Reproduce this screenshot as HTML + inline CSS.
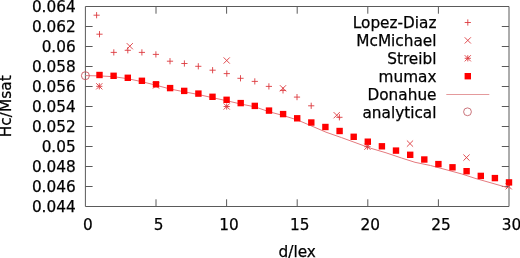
<!DOCTYPE html>
<html><head><meta charset="utf-8"><style>
html,body{margin:0;padding:0;background:#fff;width:520px;height:258px;overflow:hidden}
svg{display:block}
text{font-family:"DejaVu Sans","Liberation Sans",sans-serif;font-size:15.3px;fill:#000;stroke:#000;stroke-width:0.25px}
</style></head><body>
<svg width="520" height="258" viewBox="0 0 520 258">
<rect width="520" height="258" fill="#fff"/>
<path d="M85.4 186.5h7.2M509 186.5h-7.2M85.4 166.5h7.2M509 166.5h-7.2M85.4 146.5h7.2M509 146.5h-7.2M85.4 126.5h7.2M509 126.5h-7.2M85.4 106.5h7.2M509 106.5h-7.2M85.4 86.5h7.2M509 86.5h-7.2M85.4 66.5h7.2M509 66.5h-7.2M85.4 46.5h7.2M509 46.5h-7.2M85.4 26.5h7.2M509 26.5h-7.2M156.00 206.5v-7.2M156.00 6.5v7.2M226.60 206.5v-7.2M226.60 6.5v7.2M297.20 206.5v-7.2M297.20 6.5v7.2M367.80 206.5v-7.2M367.80 6.5v7.2M438.40 206.5v-7.2M438.40 6.5v7.2" stroke="#5a5a5a" stroke-width="1" fill="none"/>
<path d="M85.4 6.5H509V206.5H85.4Z" stroke="#5a5a5a" stroke-width="1" fill="none"/>
<text x="75.7" y="211.5" text-anchor="end">0.044</text>
<text x="75.7" y="191.5" text-anchor="end">0.046</text>
<text x="75.7" y="171.5" text-anchor="end">0.048</text>
<text x="75.7" y="151.5" text-anchor="end">0.05</text>
<text x="75.7" y="131.5" text-anchor="end">0.052</text>
<text x="75.7" y="111.5" text-anchor="end">0.054</text>
<text x="75.7" y="91.5" text-anchor="end">0.056</text>
<text x="75.7" y="71.5" text-anchor="end">0.058</text>
<text x="75.7" y="51.5" text-anchor="end">0.06</text>
<text x="75.7" y="31.5" text-anchor="end">0.062</text>
<text x="75.7" y="11.5" text-anchor="end">0.064</text>
<text x="87.9" y="229.5" text-anchor="middle">0</text>
<text x="158.5" y="229.5" text-anchor="middle">5</text>
<text x="229.1" y="229.5" text-anchor="middle">10</text>
<text x="299.7" y="229.5" text-anchor="middle">15</text>
<text x="370.3" y="229.5" text-anchor="middle">20</text>
<text x="440.9" y="229.5" text-anchor="middle">25</text>
<text x="511.5" y="229.5" text-anchor="middle">30</text>
<text x="297.2" y="257" text-anchor="middle">d/lex</text>
<text transform="translate(11.2 106.3) rotate(-90)" text-anchor="middle" style="font-size:15.4px">Hc/Msat</text>
<text x="436.5" y="28.0" text-anchor="end">Lopez-Diaz</text>
<text x="436.5" y="45.9" text-anchor="end">McMichael</text>
<text x="436.5" y="63.8" text-anchor="end">Streibl</text>
<text x="436.5" y="81.7" text-anchor="end">mumax</text>
<text x="436.5" y="99.6" text-anchor="end">Donahue</text>
<text x="436.5" y="117.5" text-anchor="end">analytical</text>
<g stroke="#e57a7e" stroke-width="1" fill="none">
<polyline points="85.4,75.6 99.5,75.9 113.6,76.7 127.8,78.7 141.9,81.7 156.0,85.2 170.1,89.0 184.2,91.8 198.4,94.5 212.5,97.7 226.6,100.7 240.7,104.0 254.8,106.8 269.0,111.7 283.1,115.5 297.2,119.9 310.5,125.5 326.0,132.2 341.5,137.6 355.0,142.5 370.5,148.2 386.0,152.8 401.5,158.0 415.0,162.3 430.5,165.5 446.0,169.7 461.5,173.9 475.0,178.3 509.0,188.0"/>
<path d="M446.3 94.5H489.3" stroke="#e49a9c"/>
</g>
<g stroke="#dc3a3e" stroke-width="0.9" fill="none">
<path d="M93.5 15.2H99.7M96.6 12.1V18.3"/>
<path d="M96.4 34.2H102.6M99.5 31.1V37.3"/>
<path d="M110.7 52.4H116.9M113.8 49.3V55.5"/>
<path d="M124.7 50.3H130.9M127.8 47.2V53.4"/>
<path d="M138.8 52.4H145.0M141.9 49.3V55.5"/>
<path d="M152.8 54.4H159.0M155.9 51.3V57.5"/>
<path d="M166.9 61.2H173.1M170.0 58.1V64.3"/>
<path d="M181.3 63.5H187.5M184.4 60.4V66.6"/>
<path d="M195.2 66.3H201.4M198.3 63.2V69.4"/>
<path d="M209.5 70.2H215.7M212.6 67.1V73.3"/>
<path d="M223.7 73.6H229.9M226.8 70.5V76.7"/>
<path d="M237.4 78.3H243.6M240.5 75.2V81.4"/>
<path d="M251.7 81.4H257.9M254.8 78.3V84.5"/>
<path d="M265.8 86.4H272.0M268.9 83.3V89.5"/>
<path d="M279.9 90.4H286.1M283.0 87.3V93.5"/>
<path d="M293.9 97.1H300.1M297.0 94.0V100.2"/>
<path d="M308.1 105.8H314.3M311.2 102.7V108.9"/>
<path d="M336.3 117.3H342.5M339.4 114.2V120.4"/>
<path d="M464.7 22.5H470.9M467.8 19.4V25.6"/>
<circle cx="85.4" cy="75.7" r="4.0" stroke="#c8505a"/>
<circle cx="467.5" cy="111.8" r="3.9" stroke="#c4646c"/>
<path d="M126.7 43.1L132.9 49.3M126.7 49.3L132.9 43.1"/>
<path d="M223.6 57.4L229.8 63.6M223.6 63.6L229.8 57.4"/>
<path d="M279.9 85.2L286.1 91.4M279.9 91.4L286.1 85.2"/>
<path d="M333.6 112.1L339.8 118.3M333.6 118.3L339.8 112.1"/>
<path d="M406.9 140.5L413.1 146.7M406.9 146.7L413.1 140.5"/>
<path d="M463.4 154.5L469.6 160.7M463.4 160.7L469.6 154.5"/>
<path d="M152.9 82.4L159.1 88.6M152.9 88.6L159.1 82.4"/>
<path d="M505.6 183.2L511.8 189.4M505.6 189.4L511.8 183.2"/>
<path d="M464.7 37.3L470.9 43.5M464.7 43.5L470.9 37.3"/>
<path d="M96.2 86.3H102.4M99.3 83.2V89.4"/><path d="M96.2 83.2L102.4 89.4M96.2 89.4L102.4 83.2"/>
<path d="M223.6 106.5H229.8M226.7 103.4V109.6"/><path d="M223.6 103.4L229.8 109.6M223.6 109.6L229.8 103.4"/>
<path d="M364.3 146.7H370.5M367.4 143.6V149.8"/><path d="M364.3 143.6L370.5 149.8M364.3 149.8L370.5 143.6"/>
<path d="M464.7 58.3H470.9M467.8 55.2V61.4"/><path d="M464.7 55.2L470.9 61.4M464.7 61.4L470.9 55.2"/>
</g>
<g fill="#ff0000">
<rect x="96.3" y="71.8" width="6.4" height="6.4"/>
<rect x="110.4" y="72.6" width="6.4" height="6.4"/>
<rect x="124.6" y="74.6" width="6.4" height="6.4"/>
<rect x="138.7" y="77.6" width="6.4" height="6.4"/>
<rect x="152.8" y="81.1" width="6.4" height="6.4"/>
<rect x="166.9" y="84.9" width="6.4" height="6.4"/>
<rect x="181.0" y="87.7" width="6.4" height="6.4"/>
<rect x="195.2" y="90.4" width="6.4" height="6.4"/>
<rect x="209.3" y="93.6" width="6.4" height="6.4"/>
<rect x="223.4" y="96.6" width="6.4" height="6.4"/>
<rect x="237.5" y="99.9" width="6.4" height="6.4"/>
<rect x="251.6" y="102.7" width="6.4" height="6.4"/>
<rect x="265.8" y="107.4" width="6.4" height="6.4"/>
<rect x="279.9" y="110.9" width="6.4" height="6.4"/>
<rect x="294.0" y="115.1" width="6.4" height="6.4"/>
<rect x="308.1" y="119.3" width="6.4" height="6.4"/>
<rect x="322.2" y="123.8" width="6.4" height="6.4"/>
<rect x="336.4" y="127.8" width="6.4" height="6.4"/>
<rect x="350.5" y="133.6" width="6.4" height="6.4"/>
<rect x="364.6" y="138.5" width="6.4" height="6.4"/>
<rect x="378.7" y="143.1" width="6.4" height="6.4"/>
<rect x="392.8" y="147.4" width="6.4" height="6.4"/>
<rect x="407.0" y="151.6" width="6.4" height="6.4"/>
<rect x="421.1" y="156.3" width="6.4" height="6.4"/>
<rect x="435.2" y="160.9" width="6.4" height="6.4"/>
<rect x="449.3" y="164.1" width="6.4" height="6.4"/>
<rect x="463.4" y="168.0" width="6.4" height="6.4"/>
<rect x="477.6" y="172.7" width="6.4" height="6.4"/>
<rect x="491.7" y="174.9" width="6.4" height="6.4"/>
<rect x="505.8" y="179.2" width="6.4" height="6.4"/>
<rect x="464.6" y="73.0" width="6.4" height="6.4"/>
</g>
</svg></body></html>
